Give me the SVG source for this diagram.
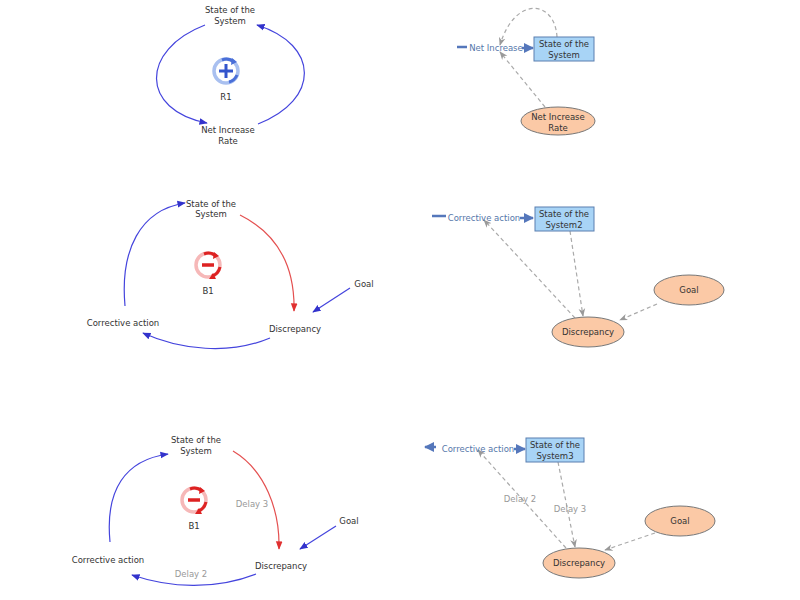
<svg xmlns="http://www.w3.org/2000/svg" width="800" height="600" viewBox="0 0 800 600">
<style>
text{font-family:"DejaVu Sans",sans-serif;font-size:8.5px;fill:#333;text-anchor:middle}
.g{fill:#999}
.bl{fill:none;stroke:#4444dd;stroke-width:1.2}
.rd{fill:none;stroke:#e45050;stroke-width:1.2}
.ds{fill:none;stroke:#aaa;stroke-width:1.2;stroke-dasharray:4,3}
.fl{fill:none;stroke:#5577bb;stroke-width:2.5}
.box{fill:#a8d4f6;stroke:#5a7fb0;stroke-width:1}
.ell{fill:#fbc9a6;stroke:#777;stroke-width:1}
.st{fill:#4466aa}
</style>
<defs>
<marker id="ab" viewBox="0 0 10 10" refX="9" refY="5" markerWidth="7" markerHeight="7" orient="auto"><path d="M0,1 L10,5 L0,9 Z" fill="#3333cc"/></marker>
<marker id="ar" viewBox="0 0 10 10" refX="9" refY="5" markerWidth="7" markerHeight="7" orient="auto"><path d="M0,1 L10,5 L0,9 Z" fill="#e03030"/></marker>
<marker id="ag" viewBox="0 0 10 10" refX="9" refY="5" markerWidth="7" markerHeight="7" orient="auto"><path d="M0,1 L10,5 L0,9 L3,5 Z" fill="#999"/></marker>
<marker id="af" viewBox="0 0 10 10" refX="9" refY="5" markerWidth="4" markerHeight="4" orient="auto"><path d="M0,0 L10,5 L0,10 Z" fill="#5577bb"/></marker>
<g id="iconP"><circle r="12" fill="none" stroke="#a9c0f0" stroke-width="3.5"/><path d="M-4,-11 A12,12 0 0 1 8,-9" fill="none" stroke="#4a6fd8" stroke-width="3"/><path d="M6,-13 L11,-9 L5,-6Z" fill="#4a6fd8"/><path d="M11,4 A12,12 0 0 1 3,11" fill="none" stroke="#4a6fd8" stroke-width="3"/><path d="M-6,-6 h0" /><path d="M0,-7 V7 M-7,0 H7" stroke="#3355cc" stroke-width="3"/></g>
<g id="iconM"><circle r="12" fill="none" stroke="#f6b8b8" stroke-width="3.5"/><path d="M-4,-11 A12,12 0 0 1 8,-9" fill="none" stroke="#dd2222" stroke-width="3"/><path d="M6,-13 L11,-9 L5,-6Z" fill="#dd2222"/><path d="M12,2 A12,12 0 0 1 4,11" fill="none" stroke="#dd2222" stroke-width="3"/><path d="M1,14 L5,8 L8,14Z" fill="#dd2222"/><path d="M-6,0 H6" stroke="#dd2222" stroke-width="3.5"/></g>
</defs>
<g id="connectors">
<path class="bl" d="M205,25 C140,50 140,110 207,123" marker-end="url(#ab)"/>
<path class="bl" d="M258,124 C320,100 320,45 257,25" marker-end="url(#ab)"/>
<path class="bl" d="M125,306 C120,250 140,210 185,203" marker-end="url(#ab)"/>
<path class="rd" d="M240,215 C280,235 295,270 294,311" marker-end="url(#ar)"/>
<path class="bl" d="M350,288 L313,312" marker-end="url(#ab)"/>
<path class="bl" d="M270,338 C230,355 180,350 143,333" marker-end="url(#ab)"/>
<path class="bl" d="M110,542 C105,490 125,460 168,454" marker-end="url(#ab)"/>
<path class="rd" d="M233,451 C265,470 280,510 279,549" marker-end="url(#ar)"/>
<path class="bl" d="M336,526 L300,549" marker-end="url(#ab)"/>
<path class="bl" d="M256,574 C215,590 170,588 132,575" marker-end="url(#ab)"/>
<path class="fl" d="M457,47 H467 M522,48 H533" marker-end="url(#af)"/>
<path class="ds" d="M557,37 C555,0 515,-5 500,45" marker-end="url(#ag)"/>
<path class="ds" d="M545,107 L500,52" marker-end="url(#ag)"/>
<path class="fl" d="M432,216 H446 M520,218 H533" marker-end="url(#af)"/>
<path class="ds" d="M570,231 L583,316" marker-end="url(#ag)"/>
<path class="ds" d="M575,318 L484,220" marker-end="url(#ag)"/>
<path class="ds" d="M657,304 L620,320" marker-end="url(#ag)"/>
<path class="fl" d="M436,447 H425" marker-end="url(#af)"/>
<path class="fl" d="M514,449 H525" marker-end="url(#af)"/>
<path class="ds" d="M558,462 L575,547" marker-end="url(#ag)"/>
<path class="ds" d="M566,548 L478,450" marker-end="url(#ag)"/>
<path class="ds" d="M655,533 L605,550" marker-end="url(#ag)"/>
</g>
<g id="loop1"><text x="230" y="13">State of the</text><text x="230" y="24">System</text>
<use href="#iconP" x="226" y="71"/><text x="226" y="100">R1</text>
<text x="228" y="133">Net Increase</text><text x="228" y="144">Rate</text></g>
<g id="sf1"><rect class="box" x="534" y="37" width="60" height="24"/><text x="564" y="47">State of the</text><text x="564" y="58">System</text>
<text class="st" x="496" y="51" style="fill:#5577aa">Net Increase</text>
<ellipse class="ell" cx="558" cy="121" rx="37" ry="14"/><text x="558" y="120">Net Increase</text><text x="558" y="131">Rate</text></g>
<g id="loop2"><text x="211" y="207">State of the</text><text x="211" y="217">System</text>
<use href="#iconM" x="208" y="265"/><text x="208" y="294">B1</text>
<text x="364" y="287">Goal</text><text x="123" y="326">Corrective action</text><text x="295" y="332">Discrepancy</text></g>
<g id="sf2"><rect class="box" x="535" y="207" width="59" height="24"/><text x="564" y="217">State of the</text><text x="564" y="228">System2</text>
<text x="484" y="221" style="fill:#5577aa">Corrective action</text>
<ellipse class="ell" cx="588" cy="332" rx="36" ry="15"/><text x="588" y="335">Discrepancy</text>
<ellipse class="ell" cx="689" cy="290" rx="35" ry="15"/><text x="689" y="293">Goal</text></g>
<g id="loop3"><text x="196" y="443">State of the</text><text x="196" y="454">System</text>
<use href="#iconM" x="194" y="500"/><text x="194" y="529">B1</text>
<text class="g" x="252" y="507">Delay 3</text><text x="349" y="524">Goal</text>
<text x="108" y="563">Corrective action</text><text x="281" y="569">Discrepancy</text><text class="g" x="191" y="577">Delay 2</text></g>
<g id="sf3"><rect class="box" x="526" y="438" width="58" height="24"/><text x="555" y="448">State of the</text><text x="555" y="459">System3</text>
<text x="478" y="452" style="fill:#5577aa">Corrective action</text>
<text class="g" x="570" y="512">Delay 3</text><text class="g" x="520" y="502">Delay 2</text>
<ellipse class="ell" cx="579" cy="563" rx="36" ry="15"/><text x="579" y="566">Discrepancy</text>
<ellipse class="ell" cx="680" cy="521" rx="35" ry="15"/><text x="680" y="524">Goal</text></g>
</svg>
